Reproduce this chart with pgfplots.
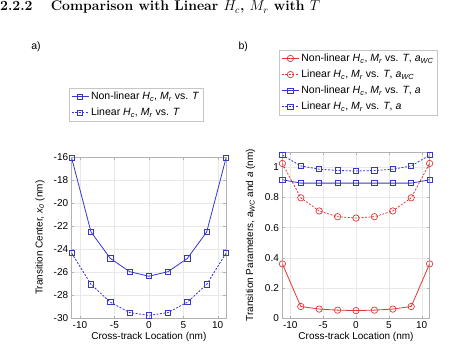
\documentclass[border=0pt]{standalone}
\usepackage{fontspec}
\newfontfamily\arial{Liberation Sans}
\usepackage{pgfplots}
\pgfplotsset{compat=1.18}
\definecolor{mblue}{RGB}{55,55,205}
\definecolor{mred}{RGB}{225,55,55}
\newcommand{\iv}[1]{\textit{#1}}
\newcommand{\sfs}{\arial\fontsize{10}{12}\selectfont}
\pgfplotsset{
  mstyle/.style={
    scale only axis,
    anchor=south west,
    xmin=-11.2, xmax=11.2,
    xtick={-10,-5,0,5,10},
    grid=major,
    grid style={gray!18, line width=0.4pt},
    axis line style={gray!60},
    tick style={gray!60, line width=0.4pt},
    tick align=inside,
    major tick length=2.5pt,
    /pgf/number format/assume math mode=true,
    tick label style={font=\sfs},
    label style={font=\sfs},
    x label style={at={(axis description cs:0.5,0)}, anchor=center, yshift=-18.5pt},
    legend style={draw=gray!45, fill=white, font=\arial\fontsize{10.5}{12}\selectfont,
      legend cell align=left, inner xsep=2pt, inner ysep=2pt, row sep=3pt},
  },
  nl/.style={line width=0.8pt, solid},
  li/.style={line width=0.8pt, dash pattern=on 2pt off 1.5pt},
  sq/.style={mark=square, mark size=2.6pt, mark options={solid, line width=0.7pt}},
  ci/.style={mark=o, mark size=3.2pt, mark options={solid, line width=0.7pt}},
}
\begin{document}
\begin{tikzpicture}
\path[use as bounding box] (0pt,0pt) rectangle (474pt,-353pt);
\node[anchor=base west, inner sep=0pt] at (0pt,-11pt) {\fontsize{14}{16}\selectfont\bfseries 2.2.2\hspace{1.3em}Comparison with Linear $H_c$, $M_r$ with $T$};
\node[font=\arial\fontsize{10.5}{12}\selectfont] at (36pt,-46.7pt) {a)};
\node[font=\arial\fontsize{10.5}{12}\selectfont] at (243.3pt,-46.7pt) {b)};

\begin{axis}[mstyle,
  at={(71.7pt,-318.3pt)}, width=154.3pt, height=161.3pt,
  ymin=-30, ymax=-16, ytick={-30,-28,...,-16},
  xlabel={Cross-track Location (nm)},
  ylabel={Transition Center, \iv{x}\textsubscript{\iv{0}} (nm)},
  y label style={at={(axis description cs:-0.205,0.5)}, anchor=center},
  legend style={at={(-0.0175,1.428)}, anchor=north west},
]
\addplot[mblue, nl, sq] coordinates {(-11.2,-16.1) (-8.4,-22.5) (-5.6,-24.8) (-2.8,-25.95) (0,-26.35) (2.8,-25.95) (5.6,-24.8) (8.4,-22.5) (11.2,-16.1)};
\addlegendentry{Non-linear \iv{H}\textsubscript{\iv{c}}, \iv{M}\textsubscript{\iv{r}} vs. \iv{T}}
\addplot[mblue, li, sq] coordinates {(-11.2,-24.35) (-8.4,-27.05) (-5.6,-28.6) (-2.8,-29.5) (0,-29.75) (2.8,-29.5) (5.6,-28.6) (8.4,-27.05) (11.2,-24.35)};
\addlegendentry{Linear \iv{H}\textsubscript{\iv{c}}, \iv{M}\textsubscript{\iv{r}} vs. \iv{T}}
\end{axis}

\begin{axis}[mstyle,
  at={(282.4pt,-318.3pt)}, width=147.2pt, height=166.3pt,
  ymin=0, ymax=1.1, ytick={0,0.2,...,1.0},
  yticklabels={0,0.2,0.4,0.6,0.8,1},
  xlabel={Cross-track Location (nm)},
  ylabel={Transition Parameters, \iv{a}\textsubscript{\iv{WC}} and \iv{a} (nm)},
  y label style={at={(axis description cs:-0.217,0.5)}, anchor=center},
  legend style={at={(-0.021,1.615)}, anchor=north west},
]
\addplot[mred, nl, ci] coordinates {(-11.2,0.36) (-8.4,0.078) (-5.6,0.061) (-2.8,0.054) (0,0.051) (2.8,0.054) (5.6,0.061) (8.4,0.078) (11.2,0.36)};
\addlegendentry{Non-linear \iv{H}\textsubscript{\iv{c}}, \iv{M}\textsubscript{\iv{r}} vs. \iv{T}, \iv{a}\textsubscript{\iv{WC}}}
\addplot[mred, li, ci] coordinates {(-11.2,1.024) (-8.4,0.797) (-5.6,0.71) (-2.8,0.672) (0,0.663) (2.8,0.672) (5.6,0.71) (8.4,0.797) (11.2,1.024)};
\addlegendentry{Linear \iv{H}\textsubscript{\iv{c}}, \iv{M}\textsubscript{\iv{r}} vs. \iv{T}, \iv{a}\textsubscript{\iv{WC}}}
\addplot[mblue, nl, sq] coordinates {(-11.2,0.916) (-8.4,0.894) (-5.6,0.894) (-2.8,0.894) (0,0.894) (2.8,0.894) (5.6,0.894) (8.4,0.894) (11.2,0.916)};
\addlegendentry{Non-linear \iv{H}\textsubscript{\iv{c}}, \iv{M}\textsubscript{\iv{r}} vs. \iv{T}, \iv{a}}
\addplot[mblue, li, sq] coordinates {(-11.2,1.079) (-8.4,1.008) (-5.6,0.986) (-2.8,0.978) (0,0.974) (2.8,0.978) (5.6,0.986) (8.4,1.008) (11.2,1.079)};
\addlegendentry{Linear \iv{H}\textsubscript{\iv{c}}, \iv{M}\textsubscript{\iv{r}} vs. \iv{T}, \iv{a}}
\end{axis}
\end{tikzpicture}
\end{document}
